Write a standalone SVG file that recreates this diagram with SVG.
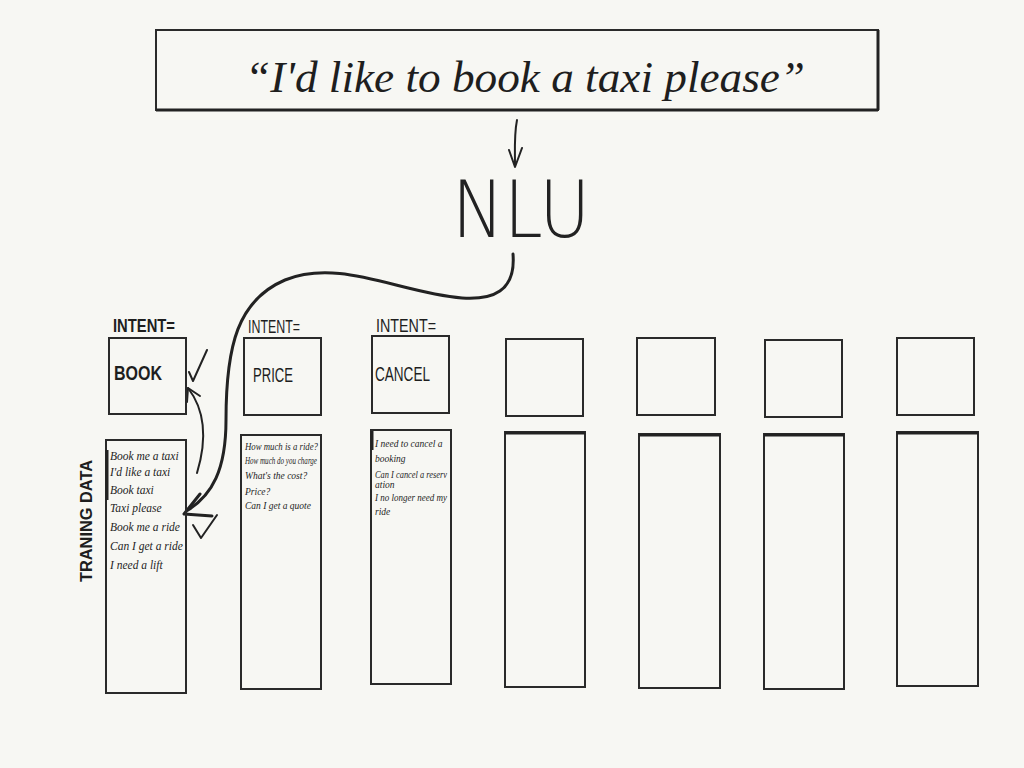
<svg xmlns="http://www.w3.org/2000/svg" width="1024" height="768" viewBox="0 0 1024 768">
<defs>
<style>
.box{fill:none;stroke:#2a2a2a;stroke-width:2}
.ln{fill:none;stroke:#222;stroke-width:2;stroke-linecap:round;stroke-linejoin:round}
.thick{fill:none;stroke:#222;stroke-width:3;stroke-linecap:round;stroke-linejoin:round}
.hand{font-family:"Liberation Serif",serif;font-style:italic;fill:#1e1e1e}
.mark{font-family:"Liberation Sans Narrow","Liberation Sans",sans-serif;font-stretch:condensed;fill:#1e1e1e}
.note{font-family:"Liberation Serif",serif;font-style:italic;fill:#1e1e1e}
</style>
</defs>
<rect width="1024" height="768" fill="#f7f7f3"/>

<g id="utterance">
<rect class="box" x="156" y="30" width="722" height="80"/>
<line x1="156" y1="110" x2="878" y2="110" stroke="#222" stroke-width="3"/>
<line x1="878" y1="30" x2="878" y2="110" stroke="#222" stroke-width="3"/>
<text class="hand" x="245" y="92" font-size="44" textLength="560" lengthAdjust="spacingAndGlyphs">“I'd like to book a taxi please”</text>
</g>

<g id="nlu">
<text x="521" y="237" font-family="'DejaVu Sans',sans-serif" font-weight="200" font-size="78" text-anchor="middle" fill="#222" textLength="138" lengthAdjust="spacingAndGlyphs">NLU</text>
</g>

<g id="connectors">
<path class="ln" d="M517,120 C514,135 515,150 515,165"/>
<polyline class="ln" points="509,150 515,167 522,148"/>
<path class="thick" d="M513,254 C516,292 492,300 462,298 C400,293 340,258 285,280 C238,300 226,345 226,420 C226,470 212,495 188,510"/>
<polyline class="thick" points="200,494 184,514 212,516"/>
<path class="ln" d="M197,473 C207,440 205,410 188,388"/>
<polyline class="ln" points="187,402 188,388 200,396"/>
<polyline class="ln" points="189,372 193,381 207,350"/>
<polyline class="ln" points="193,525 201,538 217,515"/>
</g>

<g id="intent-book">
<text class="mark" x="113" y="332" font-size="19" font-weight="bold" textLength="62" lengthAdjust="spacingAndGlyphs">INTENT=</text>
<rect class="box" x="109" y="338" width="77" height="76"/>
<text class="mark" x="114" y="380" font-size="21" font-weight="bold" textLength="48" lengthAdjust="spacingAndGlyphs">BOOK</text>
</g>
<g id="intent-price">
<text class="mark" x="248" y="333" font-size="19" textLength="52" lengthAdjust="spacingAndGlyphs">INTENT=</text>
<rect class="box" x="244" y="338" width="77" height="77"/>
<text class="mark" x="253" y="382" font-size="21" textLength="40" lengthAdjust="spacingAndGlyphs">PRICE</text>
</g>
<g id="intent-cancel">
<text class="mark" x="376" y="332" font-size="19" textLength="60" lengthAdjust="spacingAndGlyphs">INTENT=</text>
<rect class="box" x="372" y="336" width="77" height="77"/>
<text class="mark" x="375" y="381" font-size="20" textLength="55" lengthAdjust="spacingAndGlyphs">CANCEL</text>
</g>
<g id="intent-4"><rect class="box" x="506" y="339" width="77" height="77"/></g>
<g id="intent-5"><rect class="box" x="637" y="338" width="78" height="77"/></g>
<g id="intent-6"><rect class="box" x="765" y="340" width="77" height="77"/></g>
<g id="intent-7"><rect class="box" x="897" y="338" width="77" height="77"/></g>

<g id="training-label">
<text class="mark" transform="translate(92,582) rotate(-90)" font-size="16" font-weight="bold" textLength="122" lengthAdjust="spacingAndGlyphs">TRANING DATA</text>
</g>

<g id="data-book">
<rect class="box" x="106" y="440" width="80" height="253"/>
<line x1="107" y1="450" x2="107" y2="500" stroke="#222" stroke-width="3"/>
<g class="note" font-size="11.5">
<text x="110" y="460">Book me a taxi</text>
<text x="110" y="476">I'd like a taxi</text>
<text x="110" y="494">Book taxi</text>
<text x="110" y="512">Taxi please</text>
<text x="110" y="531">Book me a ride</text>
<text x="110" y="550">Can I get a ride</text>
<text x="110" y="569">I need a lift</text>
</g>
</g>
<g id="data-price">
<rect class="box" x="241" y="435" width="80" height="254"/>
<g class="note" font-size="9.5">
<text x="245" y="450" textLength="73" lengthAdjust="spacingAndGlyphs">How much is a ride?</text>
<text x="245" y="464" textLength="72" lengthAdjust="spacingAndGlyphs">How much do you charge</text>
<text x="245" y="479">What's the cost?</text>
<text x="245" y="495">Price?</text>
<text x="245" y="509">Can I get a quote</text>
</g>
</g>
<g id="data-cancel">
<rect class="box" x="371" y="430" width="80" height="254"/>
<line x1="372" y1="431" x2="372" y2="450" stroke="#222" stroke-width="3"/>
<g class="note" font-size="9.5">
<text x="375" y="447">I need to cancel a</text>
<text x="375" y="462">booking</text>
<text x="375" y="478" textLength="72" lengthAdjust="spacingAndGlyphs">Can I cancel a reserv</text>
<text x="375" y="488">ation</text>
<text x="375" y="501" textLength="72" lengthAdjust="spacingAndGlyphs">I no longer need my</text>
<text x="375" y="515">ride</text>
</g>
</g>
<g id="data-4"><rect class="box" x="505" y="432" width="80" height="255"/><line x1="505" y1="433" x2="585" y2="433" stroke="#222" stroke-width="3"/></g>
<g id="data-5"><rect class="box" x="639" y="434" width="81" height="254"/><line x1="639" y1="435" x2="720" y2="435" stroke="#222" stroke-width="3"/></g>
<g id="data-6"><rect class="box" x="764" y="434" width="80" height="255"/><line x1="764" y1="435" x2="844" y2="435" stroke="#222" stroke-width="3"/></g>
<g id="data-7"><rect class="box" x="897" y="432" width="81" height="254"/><line x1="897" y1="433" x2="978" y2="433" stroke="#222" stroke-width="3"/></g>
</svg>
